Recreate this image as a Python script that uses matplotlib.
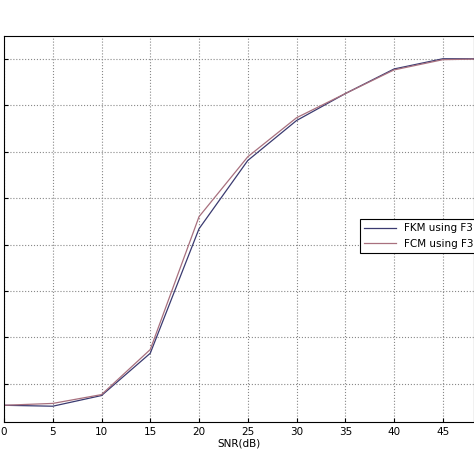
import matplotlib
matplotlib.use("Agg")
import matplotlib.pyplot as plt

snr = [0, 5, 10, 15, 20, 25, 30, 35, 40, 45, 50]
fkm = [5.4, 5.2, 7.5, 16.6, 43.4, 58.1, 66.7, 72.5, 77.8, 80.0, 80.0]
fcm = [5.4, 5.8, 7.7, 17.4, 46.0, 58.9, 67.3, 72.5, 77.6, 79.8, 80.0]
xticks = [0, 5, 10, 15, 20, 25, 30, 35, 40, 45]
yticks = [10, 20, 30, 40, 50, 60, 70, 80]

fig = plt.figure(figsize=(4.74, 4.74), dpi=100)
ax = fig.add_axes([4/474, 1-422/474, 470/474, 386/474])
ax.plot(snr, fkm, color="#3a3a70", lw=0.9, label="FKM using F3")
ax.plot(snr, fcm, color="#a8707e", lw=0.9, label="FCM using F3")
ax.set_xlim(0, 48.2)
ax.set_ylim(1.8, 84.9)
ax.set_xticks(xticks)
ax.set_yticks(yticks)
ax.set_yticklabels([])
ax.tick_params(labelsize=7.5, direction="in", length=3)
ax.grid(True, linestyle=":", color="#888888", lw=0.8)
ax.set_xlabel("SNR(dB)", fontsize=7.5, labelpad=1)
for s in ax.spines.values():
    s.set_linewidth(0.8)
leg = ax.legend(loc="upper left", bbox_to_anchor=(351/470, 1-(214-36)/386), fontsize=7.5,
                fancybox=False, edgecolor="black", framealpha=1, handlelength=3)
leg.get_frame().set_linewidth(0.8)
fig.savefig("out.png", dpi=100)
